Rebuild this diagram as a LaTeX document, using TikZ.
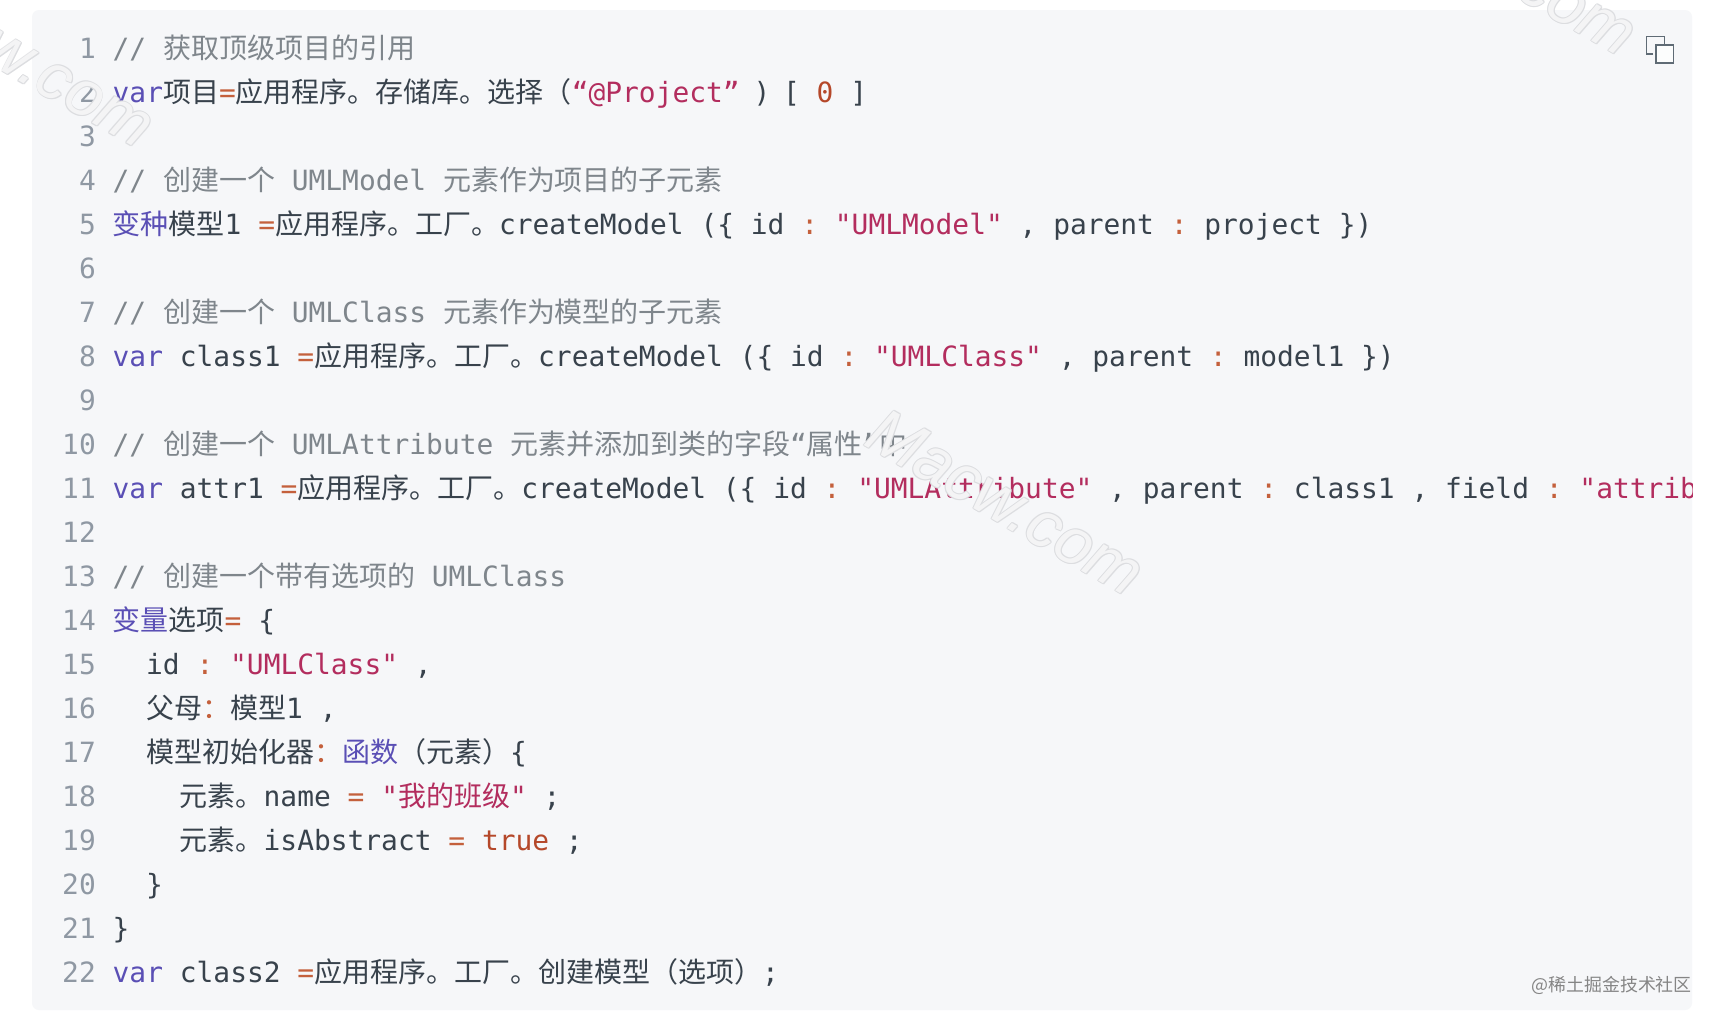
\documentclass[tikz,border=0pt]{standalone}
\usepackage{fontspec}
\newfontfamily\mono{DejaVu Sans Mono}
\newfontfamily\cjk[Scale=1.0036]{Noto Sans CJK SC}
\newfontfamily\cjksm{Noto Sans CJK SC}
\newfontfamily\wmf{Liberation Sans}
\definecolor{panelbg}{HTML}{F6F7F9}
\definecolor{codetxt}{HTML}{38424C}
\definecolor{cmt}{HTML}{7F868C}
\definecolor{lnum}{HTML}{8F98A3}
\definecolor{kwd}{HTML}{5A4FB5}
\definecolor{opc}{HTML}{C4603C}
\definecolor{strc}{HTML}{B32D5E}
\definecolor{litc}{HTML}{B5482A}
\definecolor{icon}{HTML}{5F6B75}
\definecolor{wmline}{HTML}{DCDDE0}
\newcommand\C[1]{{\cjk #1}}
\newcommand\kw[1]{\textcolor{kwd}{\C{#1}}}
\newcommand\kwl[1]{\textcolor{kwd}{#1}}
\newcommand\opr[1]{\textcolor{opc}{#1}}
\newcommand\cstr[1]{\textcolor{strc}{#1}}
\newcommand\lit[1]{\textcolor{litc}{#1}}
\newcommand\cm[1]{\textcolor{cmt}{#1}}
\newcommand\wmark[3]{%
  \foreach \dx/\dy in {-1/0,1/0,0/-1,0/1,-.7/-.7,.7/-.7,-.7/.7,.7/.7}{
    \node[wm,text=wmline,opacity=.8,shift={(\dx,\dy)}] at (#1,#2) {#3};
  }
  \node[wm,text=white,opacity=.7] at (#1,#2) {#3};
}
\tikzset{
  x=1bp,y=-1bp,
  codeline/.style={anchor=base west,inner sep=0pt,text=codetxt,
    font=\mono\fontsize{28}{30}\selectfont\frenchspacing},
  lineno/.style={anchor=base east,inner sep=0pt,text=lnum,
    font=\mono\fontsize{28}{30}\selectfont},
  wm/.style={inner sep=0pt,rotate=-30,font=\wmf\itshape\fontsize{65}{70}\selectfont},
  iconline/.style={draw=icon,line width=1.6bp},
}
\begin{document}
\begin{tikzpicture}
\useasboundingbox (0,0) rectangle (1718,1022);
\clip (0,0) rectangle (1718,1022);
\fill[white] (0,0) rectangle (1718,1022);
\fill[panelbg,rounded corners=7bp] (32,10) rectangle (1692,1010);
\foreach \n in {1,...,22}{
  \node[lineno] (n\n) at (96,{58.3+44.0*(\n-1)}) {\n};
}
\begin{scope}
\clip (32,10) rectangle (1692,1010);
\def\bl#1{{58.3+44.0*(#1-1)}}
\node[codeline] (l1) at (112.5,\bl{1}) {\cm{// \C{获取顶级项目的引用}}};
\node[codeline] (l2) at (112.5,\bl{2}) {\kwl{var}\C{项目}\opr{=}\C{应用程序。存储库。选择（}\cstr{“@Project”}\hspace{-3bp} )\hspace{-4bp} [ \lit{0} ]};
\node[codeline] (l4) at (112.5,\bl{4}) {\cm{// \C{创建一个} UMLModel \C{元素作为项目的子元素}}};
\node[codeline] (l5) at (112.5,\bl{5}) {\kw{变种}\C{模型}1 \opr{=}\C{应用程序。工厂。}createModel (\{ id \opr{:} \cstr{"UMLModel"} , parent \opr{:} project \})};
\node[codeline] (l7) at (112.5,\bl{7}) {\cm{// \C{创建一个} UMLClass \C{元素作为模型的子元素}}};
\node[codeline] (l8) at (112.5,\bl{8}) {\kwl{var} class1 \opr{=}\C{应用程序。工厂。}createModel (\{ id \opr{:} \cstr{"UMLClass"} , parent \opr{:} model1 \})};
\node[codeline] (l10) at (112.5,\bl{10}) {\cm{// \C{创建一个} UMLAttribute \C{元素并添加到类的字段}“\C{属性}”\C{中}}};
\node[codeline] (l11) at (112.5,\bl{11}) {\kwl{var} attr1 \opr{=}\C{应用程序。工厂。}createModel (\{ id \opr{:} \cstr{"UMLAttribute"} , parent \opr{:} class1 , field \opr{:} \cstr{"attrib}};
\node[codeline] (l13) at (112.5,\bl{13}) {\cm{// \C{创建一个带有选项的} UMLClass}};
\node[codeline] (l14) at (112.5,\bl{14}) {\kw{变量}\C{选项}\opr{=} \{};
\node[codeline] (l15) at (146,\bl{15}) {id \opr{:} \cstr{"UMLClass"} ,};
\node[codeline] (l16) at (146,\bl{16}) {\C{父母}\opr{\C{：}}\C{模型}1 ,};
\node[codeline] (l17) at (146,\bl{17}) {\C{模型初始化器}\opr{\C{：}}\kw{函数}\C{（元素）}\{};
\node[codeline] (l18) at (179.5,\bl{18}) {\C{元素。}name \opr{=} \cstr{"\C{我的班级}"} ;};
\node[codeline] (l19) at (179.5,\bl{19}) {\C{元素。}isAbstract \opr{=} \lit{true} ;};
\node[codeline] (l20) at (146,\bl{20}) {\}};
\node[codeline] (l21) at (112.5,\bl{21}) {\}};
\node[codeline] (l22) at (112.5,\bl{22}) {\kwl{var} class2 \opr{=}\C{应用程序。工厂。创建模型（选项）};};
\end{scope}
% copy icon
\draw[iconline] (1653,54) -- (1646.5,54) -- (1646.5,36.5) -- (1664.5,36.5) -- (1664.5,45);
\draw[iconline,fill=white!70!panelbg] (1656,45) rectangle (1673.5,63);
% site mark
\node[anchor=base east,inner sep=0pt,text=black!48,font=\cjksm\fontsize{18}{20}\selectfont] (site) at (1692,991) {@稀土掘金技术社区};
% diagonal watermarks
\wmark{1006}{502}{Macw.com}
\wmark{67}{89}{w.com}
\wmark{1499}{-38}{Macw.com}
\end{tikzpicture}
\end{document}
